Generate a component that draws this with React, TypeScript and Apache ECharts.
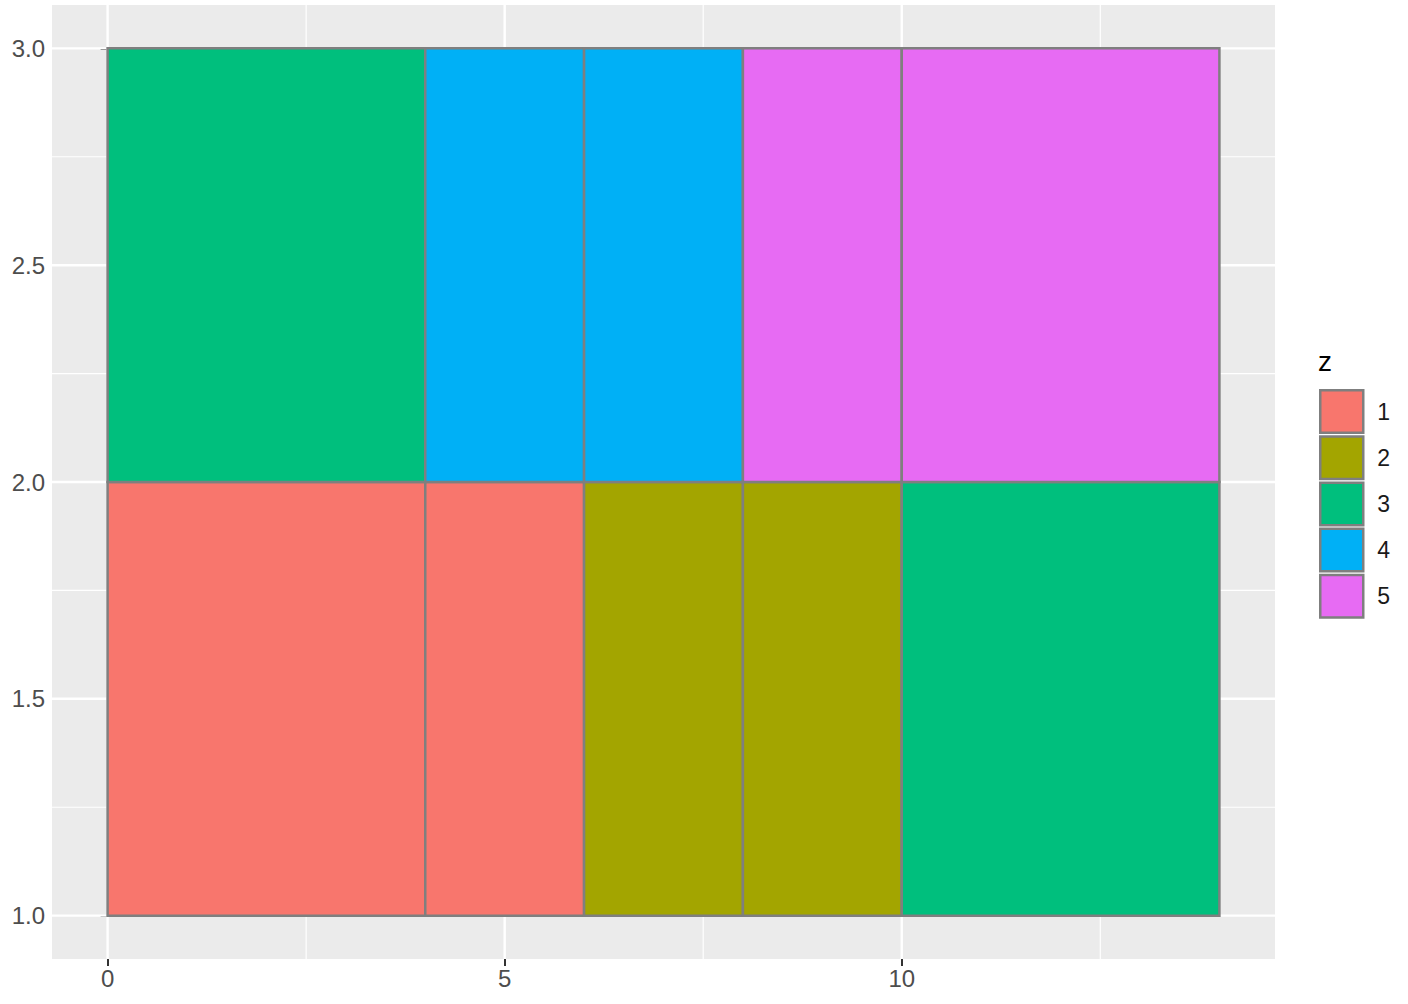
import * as echarts from "echarts";
import { useEffect, useRef } from "react";

// rectangles (geom_rect): one entry per tile
const rectXMin = [0, 4, 6, 8, 10, 0, 4, 6, 8, 10];
const rectXMax = [4, 6, 8, 10, 14, 4, 6, 8, 10, 14];
const rectYMin = [1, 1, 1, 1, 1, 2, 2, 2, 2, 2];
const rectYMax = [2, 2, 2, 2, 2, 3, 3, 3, 3, 3];
const rectZ = ["1", "1", "2", "2", "3", "3", "4", "4", "5", "5"];

const zLevels = ["1", "2", "3", "4", "5"];
const zColors = ["#F8766D", "#A3A500", "#00BF7D", "#00B0F6", "#E76BF3"];

const xTicks = [0, 5, 10];
const xMinorGrid = [2.5, 7.5, 12.5];
const yTicks = [1, 1.5, 2, 2.5, 3];
const yMinorGrid = [1.25, 1.75, 2.25, 2.75];

const FONT = "Liberation Sans, Arial, sans-serif";
const BORDER = "#7F7F7F";

export default function App() {
	const chartRef = useRef<HTMLDivElement>(null);

	useEffect(() => {
		if (!chartRef.current) return;
		document.body.style.margin = "0";

		const chart = echarts.init(chartRef.current, null, { renderer: "svg" });

		const gridLines = [
			...xTicks.map(v => ({ value: [v, 1], dir: "v", major: true })),
			...xMinorGrid.map(v => ({ value: [v, 1], dir: "v", major: false })),
			...yTicks.map(v => ({ value: [0, v], dir: "h", major: true })),
			...yMinorGrid.map(v => ({ value: [0, v], dir: "h", major: false }))
		];

		const rectSeries = zLevels.map((level, li) => ({
			type: "custom",
			name: level,
			z: 3,
			itemStyle: { color: zColors[li] },
			encode: { x: [0, 1], y: [2, 3] },
			data: rectXMin
				.map((_, i) => i)
				.filter(i => rectZ[i] === level)
				.map(i => [rectXMin[i], rectXMax[i], rectYMin[i], rectYMax[i]]),
			renderItem: (_params: any, api: any) => {
				const p0 = api.coord([api.value(0), api.value(3)]);
				const p1 = api.coord([api.value(1), api.value(2)]);
				return {
					type: "rect",
					shape: { x: p0[0], y: p0[1], width: p1[0] - p0[0], height: p1[1] - p0[1] },
					style: { fill: zColors[li], stroke: BORDER, lineWidth: 2.5 }
				};
			}
		}));

		const option = {
			animation: false,
			textStyle: { fontFamily: FONT },
			grid: {
				left: 52,
				right: 133,
				top: 5,
				bottom: 45,
				show: true,
				backgroundColor: "#EBEBEB",
				borderWidth: 0
			},
			xAxis: {
				type: "value",
				min: -0.7,
				max: 14.7,
				axisLine: { show: false },
				axisTick: { show: true, customValues: xTicks, length: 7, lineStyle: { color: "#333333", width: 2 } },
				axisLabel: { customValues: xTicks, color: "#4D4D4D", fontSize: 24, fontFamily: FONT, margin: 7 },
				splitLine: { show: false }
			},
			yAxis: {
				type: "value",
				min: 0.9,
				max: 3.1,
				axisLine: { show: false },
				axisTick: { show: true, customValues: yTicks, length: 7, lineStyle: { color: "#333333", width: 2 } },
				axisLabel: {
					customValues: yTicks,
					color: "#4D4D4D",
					fontSize: 24,
					fontFamily: FONT,
					margin: 7,
					formatter: (v: number) => v.toFixed(1)
				},
				splitLine: { show: false }
			},
			legend: {
				data: zLevels,
				orient: "vertical",
				left: 1319,
				top: 389,
				padding: 0,
				itemWidth: 43,
				itemHeight: 42.5,
				itemGap: 1.2,
				icon: "rect",
				selectedMode: false,
				itemStyle: { borderColor: BORDER, borderWidth: 2.5 },
				textStyle: { fontSize: 23, color: "#1A1A1A", fontFamily: FONT, padding: [0, 0, 0, 9] }
			},
			graphic: [
				{
					type: "text",
					left: 1318,
					top: 347,
					style: { text: "z", fontSize: 28, fill: "#000000", fontFamily: FONT }
				}
			],
			series: [
				{
					type: "custom",
					name: "grid",
					z: 1,
					silent: true,
					data: gridLines.map(g => g.value),
					renderItem: (params: any, api: any) => {
						const g = gridLines[params.dataIndex];
						const cs = params.coordSys;
						const pt = api.coord([api.value(0), api.value(1)]);
						const shape =
							g.dir === "v"
								? { x1: pt[0], y1: cs.y, x2: pt[0], y2: cs.y + cs.height }
								: { x1: cs.x, y1: pt[1], x2: cs.x + cs.width, y2: pt[1] };
						return {
							type: "line",
							shape,
							style: { stroke: "#FFFFFF", lineWidth: g.major ? 2.4 : 1.2 }
						};
					}
				},
				...rectSeries
			]
		};

		chart.setOption(option);

		return () => {
			chart.dispose();
		};
	}, []);

	return <div ref={chartRef} style={{ width: 1408, height: 1004 }} />;
}
